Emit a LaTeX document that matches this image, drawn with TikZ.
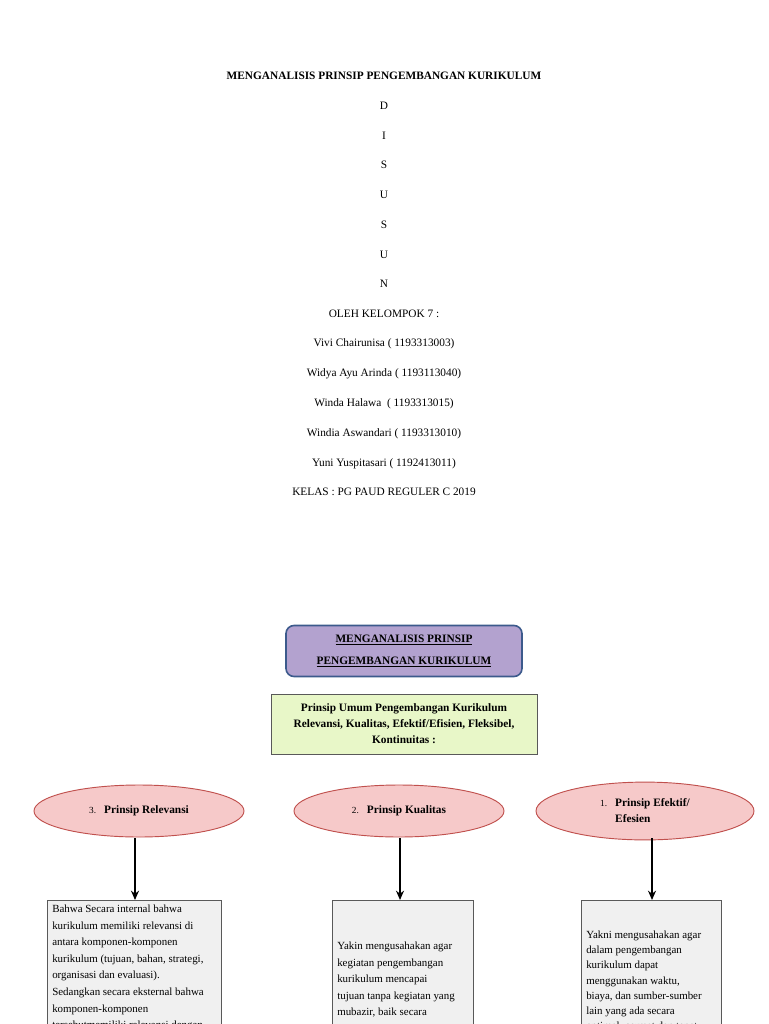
\documentclass[tikz,border=0pt]{standalone}
\usepackage{fontspec}
\setmainfont{Liberation Serif}
\usetikzlibrary{shapes.geometric,arrows.meta}
\definecolor{purp}{HTML}{B3A2CF}
\definecolor{purpb}{HTML}{3C5A8C}
\definecolor{grn}{HTML}{E8F7C8}
\definecolor{pnk}{HTML}{F6C9C9}
\definecolor{pnkb}{HTML}{C0504D}
\begin{document}
\begin{tikzpicture}[x=0.75pt,y=-0.75pt,
 t/.style={font=\fontsize{8.5}{10}\selectfont,inner sep=0pt},
 ell/.style={ellipse,draw=pnkb,fill=pnk,line width=0.7pt,minimum width=210*0.75pt,minimum height=52*0.75pt},
 txt/.style={draw=gray!70!black,fill=gray!12,line width=0.6pt},
 arr/.style={-{Stealth[length=7pt,width=6pt]},line width=2pt},
 bt/.style={font=\fontsize{8.2}{12.4}\selectfont,align=left,anchor=north west,inner sep=0pt}]
\useasboundingbox (0,0) rectangle (768,1024);
\clip (0,0) rectangle (768,1024);
\node[t,font=\fontsize{8.5}{10}\selectfont\bfseries] (title) at (384,76) {MENGANALISIS PRINSIP PENGEMBANGAN KURIKULUM};
\foreach \l/\y [count=\i] in {D/106,I/136,S/165,U/195,S/225,U/255,N/284}
  \node[t] (c\i) at (384,\y) {\l};
\node[t] (o) at (384,314) {OLEH KELOMPOK 7 :};
\node[t] (m1) at (384,344) {Vivi Chairunisa ( 1193313003)};
\node[t] (m2) at (384,374) {Widya Ayu Arinda ( 1193113040)};
\node[t] (m3) at (384,404) {Winda Halawa \ ( 1193313015)};
\node[t] (m4) at (384,434) {Windia Aswandari ( 1193313010)};
\node[t] (m5) at (384,464) {Yuni Yuspitasari ( 1192413011)};
\node[t] (k) at (384,492) {KELAS : PG PAUD REGULER C 2019};

\node[draw=purpb,fill=purp,rounded corners=6pt,line width=1.2pt,minimum width=236*0.75pt,minimum height=51*0.75pt,align=center,font=\fontsize{8.5}{17}\selectfont\bfseries] (head) at (404,651) {\underline{MENGANALISIS PRINSIP}\\\underline{PENGEMBANGAN KURIKULUM}};
\node[draw=gray!70!black,fill=grn,line width=0.6pt,minimum width=266*0.75pt,minimum height=60*0.75pt,align=center,font=\fontsize{8.5}{12}\selectfont\bfseries] (gen) at (404,724) {Prinsip Umum Pengembangan Kurikulum\\Relevansi, Kualitas, Efektif/Efisien, Fleksibel,\\Kontinuitas :};

\node[ell] (e3) at (139,811) {\fontsize{7}{9}\selectfont 3.\hspace{6pt}\fontsize{8.5}{10}\selectfont\bfseries Prinsip Relevansi};
\node[ell] (e2) at (399,811) {\fontsize{7}{9}\selectfont 2.\hspace{6pt}\fontsize{8.5}{10}\selectfont\bfseries Prinsip Kualitas};
\node[ell,minimum width=218*0.75pt] (e1) at (645,811) {\fontsize{7}{9}\selectfont 1.\hspace{6pt}\fontsize{8.5}{12}\selectfont\bfseries\begin{tabular}[t]{@{}l@{}}Prinsip Efektif/\\Efesien\end{tabular}};

\draw[txt] (47,1030) |- (221,900) -- (221,1030);
\draw[txt] (332,1030) |- (473,900) -- (473,1030);
\draw[txt] (581,1030) |- (721,900) -- (721,1030);
\coordinate (b3) at (135,900);
\coordinate (b2) at (400,900);
\coordinate (b1) at (652,900);
\draw[arr] (135,838) -- (b3);
\draw[arr] (400,838) -- (b2);
\draw[arr] (652,838) -- (b1);

\node[bt] (t3) at (52,905) {Bahwa Secara internal bahwa\\kurikulum memiliki relevansi di\\antara komponen-komponen\\kurikulum (tujuan, bahan, strategi,\\organisasi dan evaluasi).\\Sedangkan secara eksternal bahwa\\komponen-komponen\\tersebutmemiliki relevansi dengan};
\node[bt] (t2) at (337,942) {Yakin mengusahakan agar\\kegiatan pengembangan\\kurikulum mencapai\\tujuan tanpa kegiatan yang\\mubazir, baik secara\\kualitas maupun kuantitas};
\node[bt,font=\fontsize{8.2}{11.3}\selectfont] (t1) at (586,931) {Yakni mengusahakan agar\\dalam pengembangan\\kurikulum dapat\\menggunakan waktu,\\biaya, dan sumber-sumber\\lain yang ada secara\\optimal, cermat dan tepat};
\end{tikzpicture}
\end{document}
